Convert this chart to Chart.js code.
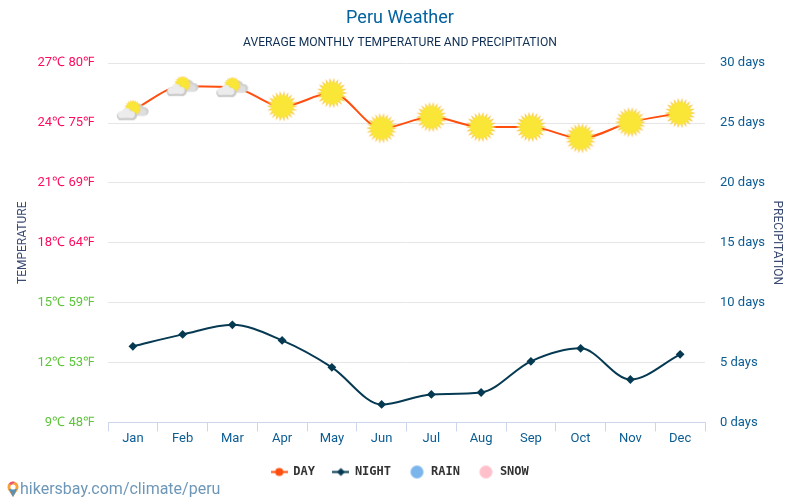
<!DOCTYPE html>
<html>
<head>
<meta charset="utf-8">
<title>Peru Weather</title>
<script src="https://cdn.jsdelivr.net/npm/chart.js@4"></script>
<style>
    html, body { margin: 0; padding: 0; background: #fff; }
    #wrap { position: relative; width: 800px; height: 500px; overflow: hidden; }
    #footer { position: absolute; left: 20px; top: 479px; font: 16px Roboto, sans-serif; color: #6e97b7; white-space: nowrap; }
    #pin { position: absolute; left: 6px; top: 481px; }
</style>
</head>
<body>
<div id="wrap">
    <canvas id="weatherChart" width="800" height="500"></canvas>
    <svg id="pin" width="14" height="17" viewBox="0 0 14 17">
        <path d="M7 16 C4 11 1.5 9 1.5 6 A5.5 5.5 0 0 1 12.5 6 C12.5 9 10 11 7 16 Z" fill="#f7a13a"/>
        <path d="M7 16 C5 12.5 4 10 3 8 L11 8 C10 10 9 12.5 7 16 Z" fill="#5d8fb0"/>
        <path d="M3 2.5 A5.5 5.5 0 0 1 9 1 L5 4 Z" fill="#ef4f7c"/>
        <circle cx="7" cy="6" r="2.6" fill="#fff"/>
    </svg>
    <div id="footer">hikersbay.com/climate/peru</div>
</div>
<script>
// ========================================
// Data
// ========================================
const months = ['Jan', 'Feb', 'Mar', 'Apr', 'May', 'Jun', 'Jul', 'Aug', 'Sep', 'Oct', 'Nov', 'Dec'];
const dayTemps = [24.64, 25.85, 25.8, 24.84, 25.5, 23.74, 24.3, 23.8, 23.8, 23.24, 24.04, 24.5];
const nightTemps = [12.81, 13.41, 13.89, 13.11, 11.76, 9.9, 10.4, 10.5, 12.06, 12.71, 11.15, 12.41];
const dayIcons = ['cloud', 'cloud', 'cloud', 'sun', 'sun', 'sun', 'sun', 'sun', 'sun', 'sun', 'sun', 'sun'];
const rainDays = [];
const snowDays = [];
const tempTicks = { 9: '9℃ 48℉', 12: '12℃ 53℉', 15: '15℃ 59℉', 18: '18℃ 64℉', 21: '21℃ 69℉', 24: '24℃ 75℉', 27: '27℃ 80℉' };
const seriesNames = ['DAY', 'NIGHT', 'RAIN', 'SNOW'];

const BLUE = '#0b5c93';
const DAY_COLOR = '#ff4e0d';
const NIGHT_COLOR = '#063a52';

// ========================================
// Point icons
// ========================================
function newIcon(w, h) {
    const c = document.createElement('canvas');
    c.width = w;
    c.height = h;
    return c;
}

function drawSun(ctx, cx, cy, inner, outer, spikes) {
    ctx.beginPath();
    for (let i = 0; i < spikes * 2; i++) {
        const r = i % 2 ? inner : outer;
        const a = i * Math.PI / spikes;
        ctx.lineTo(cx + r * Math.cos(a), cy + r * Math.sin(a));
    }
    ctx.closePath();
    const glow = ctx.createRadialGradient(cx, cy, inner, cx, cy, outer);
    glow.addColorStop(0, '#f9e040');
    glow.addColorStop(1, '#fbb95a');
    ctx.fillStyle = glow;
    ctx.fill();
    ctx.beginPath();
    ctx.arc(cx, cy, inner, 0, Math.PI * 2);
    ctx.fillStyle = '#f9e636';
    ctx.fill();
}

function drawCloud(ctx, x, y, s, color) {
    ctx.fillStyle = color;
    ctx.beginPath();
    ctx.arc(x + 5 * s, y + 6 * s, 3.5 * s, 0, Math.PI * 2);
    ctx.arc(x + 10 * s, y + 4 * s, 4.5 * s, 0, Math.PI * 2);
    ctx.arc(x + 15 * s, y + 6 * s, 3.5 * s, 0, Math.PI * 2);
    ctx.fill();
    ctx.fillRect(x + 3 * s, y + 5 * s, 13 * s, 4.5 * s);
}

function sunIcon() {
    const c = newIcon(34, 34);
    drawSun(c.getContext('2d'), 17, 17, 10.5, 15.5, 22);
    return c;
}

function cloudIcon() {
    const c = newIcon(36, 36);
    const ctx = c.getContext('2d');
    drawCloud(ctx, 12, 12, 1.18, '#cfcfcf');
    drawCloud(ctx, 13, 14, 1, '#dedede');
    drawSun(ctx, 18, 16, 6.5, 8.5, 20);
    drawCloud(ctx, 0.2, 16.6, 1.18, '#c9c9c9');
    drawCloud(ctx, 1.5, 16.2, 1, '#ececec');
    return c;
}

// Legend markers
function lineMarker(color, diamond) {
    const c = newIcon(17, 11);
    const ctx = c.getContext('2d');
    ctx.fillStyle = color;
    ctx.fillRect(0, 4.5, 17, 2);
    ctx.beginPath();
    if (diamond) {
        ctx.moveTo(8.5, 1.5); ctx.lineTo(12.5, 5.5); ctx.lineTo(8.5, 9.5); ctx.lineTo(4.5, 5.5);
    } else {
        ctx.arc(8.5, 5.5, 4, 0, Math.PI * 2);
    }
    ctx.closePath();
    ctx.fill();
    return c;
}

function dotMarker(color) {
    const c = newIcon(15, 15);
    const ctx = c.getContext('2d');
    ctx.fillStyle = color;
    ctx.beginPath();
    ctx.arc(7.5, 7.5, 6.5, 0, Math.PI * 2);
    ctx.fill();
    return c;
}

const sun = sunIcon();
const cloud = cloudIcon();
const legendMarkers = [lineMarker(DAY_COLOR, false), lineMarker(NIGHT_COLOR, true), dotMarker('#7cb5ec'), dotMarker('#ffc0cb')];

// ========================================
// Chart
// ========================================
Chart.defaults.font.family = 'Roboto, sans-serif';
Chart.defaults.animation = false;

new Chart(document.getElementById('weatherChart'), {
    type: 'line',
    data: {
        labels: months,
        datasets: [
            {
                label: seriesNames[0],
                data: dayTemps,
                yAxisID: 'y',
                borderColor: DAY_COLOR,
                borderWidth: 2,
                cubicInterpolationMode: 'monotone',
                pointStyle: dayIcons.map(i => (i === 'sun' ? sun : cloud))
            },
            {
                label: seriesNames[1],
                data: nightTemps,
                yAxisID: 'y',
                borderColor: NIGHT_COLOR,
                backgroundColor: NIGHT_COLOR,
                borderWidth: 2,
                cubicInterpolationMode: 'monotone',
                pointStyle: 'rectRot',
                pointRadius: 3
            },
            { label: seriesNames[2], data: rainDays, yAxisID: 'y1', backgroundColor: '#7cb5ec' },
            { label: seriesNames[3], data: snowDays, yAxisID: 'y1', backgroundColor: '#ffc0cb' }
        ]
    },
    options: {
        responsive: false,
        layout: { padding: { top: 8, bottom: 12 } },
        plugins: {
            title: {
                display: true,
                text: 'Peru Weather',
                color: '#04629e',
                font: { size: 18, weight: 'normal' },
                padding: { top: 0, bottom: 2 }
            },
            subtitle: {
                display: true,
                text: 'AVERAGE MONTHLY TEMPERATURE AND PRECIPITATION',
                color: '#102f54',
                font: { size: 12.15, weight: 'normal' },
                padding: { top: 4, bottom: 13 }
            },
            legend: {
                position: 'bottom',
                labels: {
                    usePointStyle: true,
                    pointStyleWidth: 16,
                    padding: 18,
                    color: '#333333',
                    font: { family: '"DejaVu Sans Mono", monospace', size: 12, weight: 'bold' },
                    generateLabels: () => seriesNames.map((name, i) => ({
                        text: name,
                        datasetIndex: i,
                        pointStyle: legendMarkers[i],
                        fontColor: '#333333',
                        lineWidth: 0,
                        hidden: false
                    }))
                }
            },
            tooltip: { enabled: false }
        },
        scales: {
            x: {
                offset: true,
                afterFit: scale => { scale.height += 1; },
                grid: { offset: true, drawOnChartArea: false, color: '#ccd6eb', tickLength: 9 },
                border: { color: '#ccd6eb' },
                ticks: { color: BLUE, font: { size: 13 }, padding: 0, maxRotation: 0 }
            },
            y: {
                position: 'left',
                min: 9,
                max: 27,
                afterFit: scale => { scale.width = 108; },
                title: { display: true, text: 'TEMPERATURE', color: '#3a4a72', font: { size: 12 }, padding: { top: 16, bottom: 0 } },
                grid: { color: '#e6e6e6', drawTicks: false },
                border: { display: false },
                ticks: {
                    stepSize: 3,
                    padding: 14,
                    font: { size: 13 },
                    color: ctx => (ctx.tick.value >= 18 ? '#ff0b5e' : '#5dc43b'),
                    callback: value => tempTicks[value]
                }
            },
            y1: {
                position: 'right',
                min: 0,
                max: 30,
                afterFit: scale => { scale.width = 95; },
                title: { display: true, text: 'PRECIPITATION', color: '#3a4a72', font: { size: 12 }, padding: { top: 16, bottom: 0 } },
                grid: { drawOnChartArea: false, drawTicks: false },
                border: { display: false },
                ticks: {
                    stepSize: 5,
                    padding: 15,
                    font: { size: 13 },
                    color: BLUE,
                    callback: value => value + ' days'
                }
            }
        }
    }
});
</script>
</body>
</html>
